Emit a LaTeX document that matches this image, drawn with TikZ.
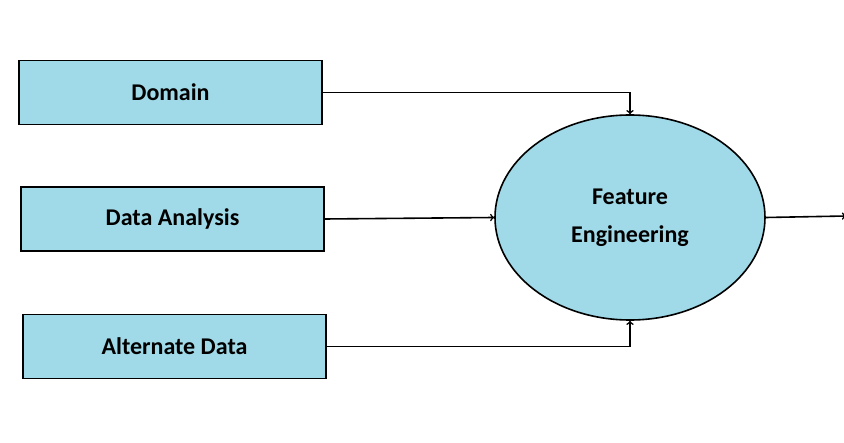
\documentclass[tikz,border=0pt]{standalone}
\usepackage{fontspec}
\setmainfont{Carlito}
\usetikzlibrary{arrows,positioning,shapes.geometric}
\definecolor{boxfill}{RGB}{160,218,232}
\begin{document}
\begin{tikzpicture}[x=1pt,y=-1pt,
  box/.style={draw,line width=1.6pt,fill=boxfill,minimum width=303pt,minimum height=64pt,
    font=\fontsize{24}{28}\selectfont\bfseries},
  blob/.style={draw,line width=1.6pt,fill=boxfill,ellipse,minimum width=270pt,minimum height=205pt,
    align=center,font=\fontsize{24}{38}\selectfont\bfseries},
  link/.style={->,>=to,line width=1.6pt}]
\useasboundingbox (0,0) rectangle (844,443);

\node[box] (domain) at (170.5,92.5) {Domain};
\node[box] (analysis) at (172.5,219) {Data Analysis};
\node[box] (alternate) at (174.5,346.5) {Alternate Data};
\node[blob] (feature) at (630,217.5) {Feature\\Engineering};
\coordinate (out) at (846,216);

%arrows
\draw[link] (domain.east) -| (feature.north);
\draw[link] (analysis.east) -- (feature.west);
\draw[link] (alternate.east) -| (feature.south);
\draw[link] (feature.east) -- (out);

\end{tikzpicture}
\end{document}
